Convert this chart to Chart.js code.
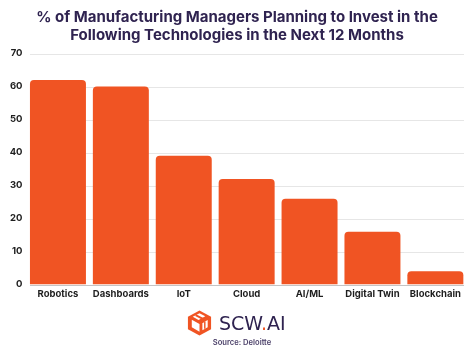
<!DOCTYPE html>
<html><head><meta charset="utf-8">
<style>
html,body{margin:0;padding:0;background:#fff;width:474px;height:355px;overflow:hidden}
#wrap{position:absolute;left:0;top:0;width:474px;height:355px}
#logo{position:absolute;left:186px;top:309px;width:27px;height:28px}
#brand{position:absolute;left:219px;top:309px;font:400 19px 'DejaVu Sans',sans-serif;color:#2f2350;line-height:28px}
#brand i{font-style:normal;color:#f05423}
#src{position:absolute;left:0;width:484px;top:338px;text-align:center;font:600 7.6px Inter,sans-serif;color:#4a3f68;line-height:10px}
</style></head><body>
<div id="wrap"><canvas id="c" width="474" height="355"></canvas>
<svg id="logo" viewBox="0 0 28 28"><path d="M14 1 26 7.500V20.500L14 27 2 20.500V7.500Z" fill="#f05423"/><path d="M6 10.500 14 15V23L6 18.500ZM17 14 22.500 11V18.500L17 21.500Z" fill="#fff"/><path d="M7 7.500 14 4 20 7 13 11Z" fill="#fff"/><path d="M10 5.800 17 9.500V14" stroke="#f05423" stroke-width="2" fill="none"/><path d="M19.500 12.500V20" stroke="#f05423" stroke-width="1.500"/></svg>
<div id="brand">SCW<i>.</i>AI</div>
<div id="src">Source: Deloitte</div>
</div>
<script src="https://cdn.jsdelivr.net/npm/chart.js@4"></script>
<script>
const categories=["Robotics","Dashboards","IoT","Cloud","AI/ML","Digital Twin","Blockchain"];
const seriesValues=[62,60,39,32,26,16,4];
const yTicks=[0,10,20,30,40,50,60,70];
const titleLines=["% of Manufacturing Managers Planning to Invest in the","Following Technologies in the Next 12 Months"];
Chart.defaults.font.family="Inter, 'Open Sans', sans-serif";
const rules={id:'rules',beforeDatasetsDraw(chart){
  const y=chart.scales.y,c=chart.ctx,bars=chart.getDatasetMeta(0).data;
  const l=bars[0].x-bars[0].width/2,r=bars[bars.length-1].x+bars[0].width/2+0.7;
  c.save();c.lineWidth=1;
  yTicks.forEach(v=>{const p=Math.round(y.getPixelForValue(v))+0.5;c.strokeStyle=v===0?'#c4c4c4':'#e6e6e6';c.beginPath();c.moveTo(l,p);c.lineTo(r,p);c.stroke();});
  c.restore();
}};
new Chart(document.getElementById('c'),{
 type:'bar',
 plugins:[rules],
 data:{labels:categories,datasets:[{data:seriesValues,backgroundColor:'#f05423',borderRadius:{topLeft:4,topRight:4,bottomLeft:0,bottomRight:0},borderSkipped:false,barPercentage:0.89,categoryPercentage:1}]},
 options:{responsive:false,animation:false,
  layout:{padding:{left:7.2,right:7.2,top:8,bottom:50.5}},
  plugins:{legend:{display:false},tooltip:{enabled:false},
   title:{display:true,text:titleLines,color:'#2f2350',font:{size:15,weight:'700',family:"Inter"},lineHeight:1.29,padding:{top:0,bottom:9.5}}},
  scales:{
   x:{afterFit(s){s.height=20},grid:{display:false,drawTicks:false},border:{display:false},ticks:{color:'#1e1e1e',font:{size:9.500,weight:'700'},padding:4,maxRotation:0,autoSkip:false}},
   y:{min:0,max:70,afterFit(s){s.width=19.3},afterBuildTicks(s){s.ticks=yTicks.map(v=>({value:v}))},grid:{display:false,drawTicks:false},border:{display:false},ticks:{color:'#1e1e1e',font:{size:9.500,weight:'700'},padding:4}}
  }}
});
</script></body></html>
